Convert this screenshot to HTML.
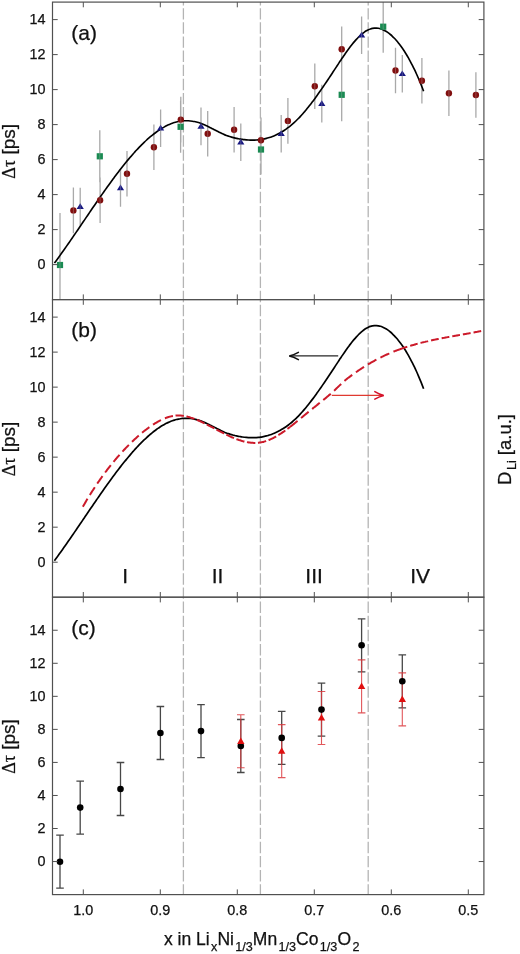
<!DOCTYPE html>
<html><head><meta charset="utf-8"><title>Figure</title><style>
html,body{margin:0;padding:0;background:#fff;}
body{width:520px;height:954px;overflow:hidden;}
svg{display:block;position:absolute;left:0;top:0;}
text{font-family:"Liberation Sans",Arial,Helvetica,sans-serif;fill:#111;stroke:#111;stroke-width:0.25px;}
.tl{font-size:14.4px;text-anchor:end;}
.xl{font-size:14.4px;text-anchor:middle;}
.pl{font-size:21px;}
.rn{font-size:21px;text-anchor:middle;}
.al{font-size:19px;text-anchor:middle;}
.gk{font-family:"Liberation Serif",serif;font-size:18px;}
.al2{font-size:18.5px;text-anchor:middle;}
.sub{font-size:12.5px;}
.xt{font-size:17.5px;}
.sb{font-size:12.6px;}
</style></head>
<body><svg width="520" height="954" viewBox="0 0 520 954">
<rect width="520" height="954" fill="#fff"/>
<clipPath id="cp"><rect x="52.5" y="2.1" width="431.4" height="892.5"/></clipPath>
<line clip-path="url(#cp)" x1="183.4" y1="-6" x2="183.4" y2="894.6" stroke="#b4b4b4" stroke-width="1.3" stroke-dasharray="11.4 2.73"/>
<line clip-path="url(#cp)" x1="260.4" y1="-6" x2="260.4" y2="894.6" stroke="#b4b4b4" stroke-width="1.3" stroke-dasharray="11.4 2.73"/>
<line clip-path="url(#cp)" x1="368.2" y1="-6" x2="368.2" y2="894.6" stroke="#b4b4b4" stroke-width="1.3" stroke-dasharray="11.4 2.73"/>
<path d="M73.4,187.6V233.2M100.1,177.4V223M127,151V196.6M153.9,124.4V170M180.8,96.8V142.4M207.7,111V156.6M234.1,107V152.6M261,117.4V163M287.9,98.1V143.7M314.8,63.4V109M341.7,26.5V72.1M395.5,47.7V93.3M421.9,58V103.6M448.9,70.4V116M475.9,72.2V117.8M80.2,187.8V225.4M120.5,169.2V206.8M160.6,109.4V147M201,107.6V145.2M240.8,123.4V161M281.2,115V152.6M321.8,84.8V122.4M361.6,16.4V54M402.3,55V92.6M60,213V299.6M99.8,130.3V182.3M180.6,100.8V152.8M261,124.5V174.5M341.7,68.4V121.2M383.2,2.1V52.7" stroke="#a9a9a9" stroke-width="1.3" fill="none"/>
<path d="M54.4,263.11 C54.73,262.66 55.73,261.31 56.4,260.4 C57.07,259.49 57.73,258.57 58.4,257.65 C59.07,256.73 59.73,255.8 60.4,254.87 C61.07,253.94 61.73,253.01 62.4,252.07 C63.07,251.13 63.73,250.19 64.4,249.24 C65.07,248.3 65.73,247.35 66.4,246.39 C67.07,245.44 67.73,244.48 68.4,243.52 C69.07,242.56 69.73,241.6 70.4,240.63 C71.07,239.67 71.73,238.7 72.4,237.73 C73.07,236.76 73.73,235.79 74.4,234.81 C75.07,233.84 75.73,232.86 76.4,231.89 C77.07,230.91 77.73,229.93 78.4,228.95 C79.07,227.97 79.73,226.99 80.4,226.01 C81.07,225.02 81.73,224.04 82.4,223.06 C83.07,222.08 83.73,221.09 84.4,220.11 C85.07,219.13 85.73,218.14 86.4,217.16 C87.07,216.18 87.73,215.2 88.4,214.22 C89.07,213.23 89.73,212.25 90.4,211.27 C91.07,210.3 91.73,209.32 92.4,208.34 C93.07,207.36 93.73,206.39 94.4,205.42 C95.07,204.44 95.73,203.47 96.4,202.51 C97.07,201.54 97.73,200.57 98.4,199.61 C99.07,198.64 99.73,197.68 100.4,196.73 C101.07,195.77 101.73,194.81 102.4,193.86 C103.07,192.91 103.73,191.97 104.4,191.02 C105.07,190.08 105.73,189.14 106.4,188.2 C107.07,187.27 107.73,186.34 108.4,185.41 C109.07,184.48 109.73,183.56 110.4,182.65 C111.07,181.73 111.73,180.82 112.4,179.91 C113.07,179 113.73,178.1 114.4,177.21 C115.07,176.31 115.73,175.42 116.4,174.54 C117.07,173.66 117.73,172.78 118.4,171.91 C119.07,171.04 119.73,170.18 120.4,169.32 C121.07,168.46 121.73,167.61 122.4,166.77 C123.07,165.93 123.73,165.09 124.4,164.26 C125.07,163.44 125.73,162.62 126.4,161.8 C127.07,160.99 127.73,160.19 128.4,159.39 C129.07,158.6 129.73,157.81 130.4,157.03 C131.07,156.25 131.73,155.48 132.4,154.72 C133.07,153.96 133.73,153.21 134.4,152.47 C135.07,151.73 135.73,151 136.4,150.28 C137.07,149.56 137.73,148.84 138.4,148.14 C139.07,147.44 139.73,146.75 140.4,146.07 C141.07,145.39 141.73,144.72 142.4,144.06 C143.07,143.4 143.73,142.76 144.4,142.12 C145.07,141.48 145.73,140.86 146.4,140.25 C147.07,139.63 147.73,139.03 148.4,138.45 C149.07,137.86 149.73,137.28 150.4,136.72 C151.07,136.15 151.73,135.6 152.4,135.07 C153.07,134.53 153.73,134 154.4,133.49 C155.07,132.98 155.73,132.48 156.4,132 C157.07,131.52 157.73,131.04 158.4,130.59 C159.07,130.13 159.73,129.69 160.4,129.26 C161.07,128.84 161.73,128.42 162.4,128.02 C163.07,127.63 163.73,127.24 164.4,126.88 C165.07,126.51 165.73,126.16 166.4,125.82 C167.07,125.48 167.73,125.16 168.4,124.86 C169.07,124.55 169.73,124.26 170.4,123.99 C171.07,123.72 171.73,123.46 172.4,123.22 C173.07,122.98 173.73,122.76 174.4,122.56 C175.07,122.35 175.73,122.16 176.4,121.99 C177.07,121.82 177.73,121.67 178.4,121.53 C179.07,121.4 179.73,121.28 180.4,121.18 C181.07,121.08 181.73,120.99 182.4,120.93 C183.07,120.86 183.73,120.81 184.4,120.78 C185.07,120.75 185.73,120.73 186.4,120.74 C187.07,120.74 187.73,120.76 188.4,120.79 C189.07,120.83 189.73,120.88 190.4,120.95 C191.07,121.02 191.73,121.11 192.4,121.21 C193.07,121.31 193.73,121.43 194.4,121.56 C195.07,121.7 195.73,121.85 196.4,122.02 C197.07,122.19 197.73,122.37 198.4,122.57 C199.07,122.77 199.73,122.99 200.4,123.22 C201.07,123.46 201.73,123.71 202.4,123.97 C203.07,124.23 203.73,124.52 204.4,124.81 C205.07,125.1 205.73,125.4 206.4,125.71 C207.07,126.03 207.73,126.35 208.4,126.68 C209.07,127.01 209.73,127.35 210.4,127.69 C211.07,128.03 211.73,128.38 212.4,128.73 C213.07,129.07 213.73,129.42 214.4,129.77 C215.07,130.12 215.73,130.47 216.4,130.82 C217.07,131.16 217.73,131.5 218.4,131.84 C219.07,132.17 219.73,132.51 220.4,132.83 C221.07,133.15 221.73,133.46 222.4,133.76 C223.07,134.06 223.73,134.36 224.4,134.63 C225.07,134.91 225.73,135.17 226.4,135.42 C227.07,135.68 227.73,135.91 228.4,136.14 C229.07,136.36 229.73,136.58 230.4,136.78 C231.07,136.98 231.73,137.17 232.4,137.36 C233.07,137.54 233.73,137.71 234.4,137.87 C235.07,138.04 235.73,138.19 236.4,138.34 C237.07,138.48 237.73,138.62 238.4,138.75 C239.07,138.88 239.73,139.01 240.4,139.12 C241.07,139.23 241.73,139.34 242.4,139.43 C243.07,139.53 243.73,139.62 244.4,139.69 C245.07,139.77 245.73,139.84 246.4,139.9 C247.07,139.96 247.73,140.01 248.4,140.04 C249.07,140.08 249.73,140.11 250.4,140.13 C251.07,140.15 251.73,140.16 252.4,140.15 C253.07,140.15 253.73,140.14 254.4,140.11 C255.07,140.09 255.73,140.05 256.4,140 C257.07,139.96 257.73,139.9 258.4,139.83 C259.07,139.76 259.73,139.67 260.4,139.58 C261.07,139.48 261.73,139.38 262.4,139.26 C263.07,139.14 263.73,139 264.4,138.86 C265.07,138.71 265.73,138.56 266.4,138.38 C267.07,138.21 267.73,138.03 268.4,137.83 C269.07,137.63 269.73,137.42 270.4,137.19 C271.07,136.97 271.73,136.73 272.4,136.47 C273.07,136.22 273.73,135.95 274.4,135.67 C275.07,135.39 275.73,135.09 276.4,134.77 C277.07,134.46 277.73,134.13 278.4,133.79 C279.07,133.45 279.73,133.09 280.4,132.71 C281.07,132.34 281.73,131.95 282.4,131.54 C283.07,131.13 283.73,130.71 284.4,130.27 C285.07,129.83 285.73,129.38 286.4,128.9 C287.07,128.43 287.73,127.94 288.4,127.44 C289.07,126.93 289.73,126.4 290.4,125.86 C291.07,125.32 291.73,124.76 292.4,124.19 C293.07,123.61 293.73,123.01 294.4,122.4 C295.07,121.79 295.73,121.16 296.4,120.51 C297.07,119.86 297.73,119.19 298.4,118.5 C299.07,117.81 299.73,117.11 300.4,116.39 C301.07,115.67 301.73,114.93 302.4,114.18 C303.07,113.43 303.73,112.66 304.4,111.88 C305.07,111.09 305.73,110.29 306.4,109.48 C307.07,108.67 307.73,107.85 308.4,107.01 C309.07,106.17 309.73,105.32 310.4,104.46 C311.07,103.59 311.73,102.72 312.4,101.83 C313.07,100.95 313.73,100.05 314.4,99.14 C315.07,98.24 315.73,97.32 316.4,96.4 C317.07,95.47 317.73,94.53 318.4,93.59 C319.07,92.65 319.73,91.7 320.4,90.74 C321.07,89.78 321.73,88.82 322.4,87.85 C323.07,86.87 323.73,85.9 324.4,84.91 C325.07,83.93 325.73,82.94 326.4,81.95 C327.07,80.96 327.73,79.96 328.4,78.96 C329.07,77.96 329.73,76.96 330.4,75.95 C331.07,74.95 331.73,73.94 332.4,72.93 C333.07,71.92 333.73,70.91 334.4,69.89 C335.07,68.88 335.73,67.87 336.4,66.86 C337.07,65.85 337.73,64.83 338.4,63.83 C339.07,62.82 339.73,61.81 340.4,60.82 C341.07,59.82 341.73,58.82 342.4,57.84 C343.07,56.86 343.73,55.88 344.4,54.92 C345.07,53.95 345.73,53 346.4,52.06 C347.07,51.12 347.73,50.2 348.4,49.29 C349.07,48.38 349.73,47.49 350.4,46.62 C351.07,45.74 351.73,44.89 352.4,44.06 C353.07,43.23 353.73,42.42 354.4,41.64 C355.07,40.85 355.73,40.09 356.4,39.36 C357.07,38.63 357.73,37.92 358.4,37.25 C359.07,36.57 359.73,35.93 360.4,35.32 C361.07,34.71 361.73,34.12 362.4,33.58 C363.07,33.04 363.73,32.53 364.4,32.06 C365.07,31.59 365.73,31.16 366.4,30.77 C367.07,30.38 367.73,30.02 368.4,29.72 C369.07,29.41 369.73,29.15 370.4,28.93 C371.07,28.71 371.73,28.53 372.4,28.4 C373.07,28.26 373.73,28.17 374.4,28.12 C375.07,28.07 375.73,28.06 376.4,28.09 C377.07,28.13 377.73,28.2 378.4,28.31 C379.07,28.43 379.73,28.58 380.4,28.77 C381.07,28.97 381.73,29.2 382.4,29.47 C383.07,29.74 383.73,30.05 384.4,30.39 C385.07,30.74 385.73,31.12 386.4,31.54 C387.07,31.96 387.73,32.42 388.4,32.91 C389.07,33.41 389.73,33.94 390.4,34.5 C391.07,35.06 391.73,35.66 392.4,36.3 C393.07,36.93 393.73,37.6 394.4,38.3 C395.07,39 395.73,39.73 396.4,40.5 C397.07,41.27 397.73,42.07 398.4,42.9 C399.07,43.73 399.73,44.6 400.4,45.49 C401.07,46.39 401.73,47.32 402.4,48.28 C403.07,49.25 403.73,50.24 404.4,51.28 C405.07,52.31 405.73,53.38 406.4,54.48 C407.07,55.58 407.73,56.72 408.4,57.89 C409.07,59.06 409.73,60.27 410.4,61.52 C411.07,62.76 411.73,64.05 412.4,65.37 C413.07,66.69 413.73,68.04 414.4,69.44 C415.07,70.83 415.73,72.27 416.4,73.74 C417.07,75.21 417.73,76.72 418.4,78.28 C419.07,79.83 419.73,81.42 420.4,83.05 C421.07,84.68 421.87,86.71 422.4,88.06 C422.93,89.42 423.4,90.67 423.6,91.19" stroke="#000" stroke-width="1.65" fill="none" stroke-linejoin="round"/>
<rect x="56.9" y="261.9" width="6.2" height="6.2" fill="#1a8a52"/>
<rect x="96.7" y="153.2" width="6.2" height="6.2" fill="#1a8a52"/>
<rect x="177.5" y="123.7" width="6.2" height="6.2" fill="#1a8a52"/>
<rect x="257.9" y="146.4" width="6.2" height="6.2" fill="#1a8a52"/>
<rect x="338.6" y="91.7" width="6.2" height="6.2" fill="#1a8a52"/>
<rect x="380.1" y="23.6" width="6.2" height="6.2" fill="#1a8a52"/>
<path d="M80.2,203.2L83.8,208.9L76.6,208.9Z" fill="#15157f"/>
<path d="M120.5,184.6L124.1,190.3L116.9,190.3Z" fill="#15157f"/>
<path d="M160.6,124.8L164.2,130.5L157,130.5Z" fill="#15157f"/>
<path d="M201,123L204.6,128.7L197.4,128.7Z" fill="#15157f"/>
<path d="M240.8,138.8L244.4,144.5L237.2,144.5Z" fill="#15157f"/>
<path d="M281.2,130.4L284.8,136.1L277.6,136.1Z" fill="#15157f"/>
<path d="M321.8,100.2L325.4,105.9L318.2,105.9Z" fill="#15157f"/>
<path d="M361.6,31.8L365.2,37.5L358,37.5Z" fill="#15157f"/>
<path d="M402.3,70.4L405.9,76.1L398.7,76.1Z" fill="#15157f"/>
<circle cx="73.4" cy="210.4" r="3.2" fill="#800e0e"/>
<circle cx="100.1" cy="200.2" r="3.2" fill="#800e0e"/>
<circle cx="127" cy="173.8" r="3.2" fill="#800e0e"/>
<circle cx="153.9" cy="147.2" r="3.2" fill="#800e0e"/>
<circle cx="180.8" cy="119.6" r="3.2" fill="#800e0e"/>
<circle cx="207.7" cy="133.8" r="3.2" fill="#800e0e"/>
<circle cx="234.1" cy="129.8" r="3.2" fill="#800e0e"/>
<circle cx="261" cy="140.2" r="3.2" fill="#800e0e"/>
<circle cx="287.9" cy="120.9" r="3.2" fill="#800e0e"/>
<circle cx="314.8" cy="86.2" r="3.2" fill="#800e0e"/>
<circle cx="341.7" cy="49.3" r="3.2" fill="#800e0e"/>
<circle cx="395.5" cy="70.5" r="3.2" fill="#800e0e"/>
<circle cx="421.9" cy="80.8" r="3.2" fill="#800e0e"/>
<circle cx="448.9" cy="93.2" r="3.2" fill="#800e0e"/>
<circle cx="475.9" cy="95" r="3.2" fill="#800e0e"/>
<path d="M73.4,207.2V213.6M100.1,197V203.4M127,170.6V177M153.9,144V150.4M180.8,116.4V122.8M207.7,130.6V137M234.1,126.6V133M261,137V143.4M287.9,117.7V124.1M314.8,83V89.4M341.7,46.1V52.5M395.5,67.3V73.7M421.9,77.6V84M448.9,90V96.4M475.9,91.8V98.2M80.2,203.4V209.8M120.5,184.8V191.2M160.6,125V131.4M201,123.2V129.6M240.8,139V145.4M281.2,130.6V137M321.8,100.4V106.8M361.6,32V38.4M402.3,70.6V77M60,261.8V268.2M99.8,153.1V159.5M180.6,123.6V130M261,146.3V152.7M341.7,91.6V98M383.2,23.5V29.9" stroke="#c8c8c8" stroke-width="0.9" fill="none" opacity="0.35"/>
<path d="M54.4,560.7 C54.73,560.25 55.73,558.89 56.4,557.98 C57.07,557.07 57.73,556.16 58.4,555.24 C59.07,554.31 59.73,553.39 60.4,552.46 C61.07,551.53 61.73,550.59 62.4,549.65 C63.07,548.72 63.73,547.77 64.4,546.83 C65.07,545.88 65.73,544.93 66.4,543.97 C67.07,543.02 67.73,542.06 68.4,541.1 C69.07,540.14 69.73,539.18 70.4,538.21 C71.07,537.25 71.73,536.28 72.4,535.31 C73.07,534.34 73.73,533.37 74.4,532.39 C75.07,531.42 75.73,530.44 76.4,529.46 C77.07,528.48 77.73,527.51 78.4,526.52 C79.07,525.54 79.73,524.56 80.4,523.58 C81.07,522.6 81.73,521.62 82.4,520.63 C83.07,519.65 83.73,518.67 84.4,517.68 C85.07,516.7 85.73,515.72 86.4,514.73 C87.07,513.75 87.73,512.77 88.4,511.79 C89.07,510.81 89.73,509.82 90.4,508.84 C91.07,507.87 91.73,506.89 92.4,505.91 C93.07,504.93 93.73,503.96 94.4,502.99 C95.07,502.01 95.73,501.04 96.4,500.07 C97.07,499.1 97.73,498.14 98.4,497.17 C99.07,496.21 99.73,495.25 100.4,494.29 C101.07,493.33 101.73,492.38 102.4,491.43 C103.07,490.48 103.73,489.53 104.4,488.59 C105.07,487.64 105.73,486.7 106.4,485.77 C107.07,484.83 107.73,483.9 108.4,482.97 C109.07,482.05 109.73,481.12 110.4,480.21 C111.07,479.29 111.73,478.38 112.4,477.47 C113.07,476.56 113.73,475.66 114.4,474.77 C115.07,473.87 115.73,472.98 116.4,472.1 C117.07,471.22 117.73,470.34 118.4,469.47 C119.07,468.6 119.73,467.73 120.4,466.88 C121.07,466.02 121.73,465.17 122.4,464.32 C123.07,463.48 123.73,462.65 124.4,461.82 C125.07,460.99 125.73,460.17 126.4,459.36 C127.07,458.55 127.73,457.74 128.4,456.95 C129.07,456.15 129.73,455.36 130.4,454.58 C131.07,453.81 131.73,453.04 132.4,452.28 C133.07,451.52 133.73,450.76 134.4,450.02 C135.07,449.28 135.73,448.55 136.4,447.83 C137.07,447.11 137.73,446.39 138.4,445.69 C139.07,444.99 139.73,444.3 140.4,443.62 C141.07,442.94 141.73,442.27 142.4,441.61 C143.07,440.95 143.73,440.3 144.4,439.67 C145.07,439.03 145.73,438.41 146.4,437.79 C147.07,437.18 147.73,436.58 148.4,435.99 C149.07,435.4 149.73,434.83 150.4,434.26 C151.07,433.7 151.73,433.15 152.4,432.61 C153.07,432.07 153.73,431.55 154.4,431.04 C155.07,430.53 155.73,430.03 156.4,429.54 C157.07,429.06 157.73,428.59 158.4,428.13 C159.07,427.68 159.73,427.23 160.4,426.81 C161.07,426.38 161.73,425.97 162.4,425.57 C163.07,425.17 163.73,424.79 164.4,424.42 C165.07,424.05 165.73,423.7 166.4,423.36 C167.07,423.02 167.73,422.7 168.4,422.4 C169.07,422.09 169.73,421.8 170.4,421.53 C171.07,421.26 171.73,421 172.4,420.76 C173.07,420.52 173.73,420.3 174.4,420.1 C175.07,419.89 175.73,419.7 176.4,419.53 C177.07,419.36 177.73,419.21 178.4,419.07 C179.07,418.94 179.73,418.82 180.4,418.72 C181.07,418.62 181.73,418.53 182.4,418.47 C183.07,418.4 183.73,418.35 184.4,418.32 C185.07,418.29 185.73,418.27 186.4,418.28 C187.07,418.28 187.73,418.3 188.4,418.33 C189.07,418.37 189.73,418.42 190.4,418.49 C191.07,418.56 191.73,418.64 192.4,418.75 C193.07,418.85 193.73,418.97 194.4,419.1 C195.07,419.24 195.73,419.39 196.4,419.56 C197.07,419.73 197.73,419.91 198.4,420.11 C199.07,420.31 199.73,420.53 200.4,420.76 C201.07,421 201.73,421.25 202.4,421.51 C203.07,421.77 203.73,422.06 204.4,422.35 C205.07,422.64 205.73,422.94 206.4,423.26 C207.07,423.57 207.73,423.89 208.4,424.22 C209.07,424.55 209.73,424.89 210.4,425.23 C211.07,425.57 211.73,425.92 212.4,426.27 C213.07,426.62 213.73,426.97 214.4,427.32 C215.07,427.66 215.73,428.02 216.4,428.36 C217.07,428.7 217.73,429.05 218.4,429.38 C219.07,429.72 219.73,430.05 220.4,430.37 C221.07,430.69 221.73,431.01 222.4,431.31 C223.07,431.61 223.73,431.9 224.4,432.18 C225.07,432.46 225.73,432.72 226.4,432.97 C227.07,433.22 227.73,433.46 228.4,433.68 C229.07,433.91 229.73,434.12 230.4,434.33 C231.07,434.53 231.73,434.72 232.4,434.9 C233.07,435.08 233.73,435.26 234.4,435.42 C235.07,435.58 235.73,435.74 236.4,435.88 C237.07,436.03 237.73,436.17 238.4,436.3 C239.07,436.43 239.73,436.55 240.4,436.67 C241.07,436.78 241.73,436.88 242.4,436.98 C243.07,437.08 243.73,437.16 244.4,437.24 C245.07,437.32 245.73,437.39 246.4,437.44 C247.07,437.5 247.73,437.55 248.4,437.59 C249.07,437.63 249.73,437.66 250.4,437.68 C251.07,437.69 251.73,437.7 252.4,437.7 C253.07,437.7 253.73,437.68 254.4,437.66 C255.07,437.63 255.73,437.6 256.4,437.55 C257.07,437.5 257.73,437.44 258.4,437.37 C259.07,437.3 259.73,437.22 260.4,437.12 C261.07,437.03 261.73,436.92 262.4,436.8 C263.07,436.68 263.73,436.55 264.4,436.4 C265.07,436.26 265.73,436.1 266.4,435.93 C267.07,435.76 267.73,435.57 268.4,435.38 C269.07,435.18 269.73,434.97 270.4,434.74 C271.07,434.51 271.73,434.27 272.4,434.02 C273.07,433.76 273.73,433.5 274.4,433.21 C275.07,432.93 275.73,432.63 276.4,432.32 C277.07,432.01 277.73,431.68 278.4,431.33 C279.07,430.99 279.73,430.63 280.4,430.26 C281.07,429.88 281.73,429.49 282.4,429.08 C283.07,428.68 283.73,428.25 284.4,427.81 C285.07,427.38 285.73,426.92 286.4,426.45 C287.07,425.97 287.73,425.48 288.4,424.98 C289.07,424.47 289.73,423.95 290.4,423.4 C291.07,422.86 291.73,422.3 292.4,421.73 C293.07,421.15 293.73,420.55 294.4,419.94 C295.07,419.33 295.73,418.7 296.4,418.05 C297.07,417.4 297.73,416.73 298.4,416.04 C299.07,415.35 299.73,414.65 300.4,413.93 C301.07,413.21 301.73,412.47 302.4,411.72 C303.07,410.97 303.73,410.2 304.4,409.41 C305.07,408.63 305.73,407.83 306.4,407.02 C307.07,406.21 307.73,405.38 308.4,404.54 C309.07,403.71 309.73,402.85 310.4,401.99 C311.07,401.13 311.73,400.25 312.4,399.37 C313.07,398.48 313.73,397.58 314.4,396.68 C315.07,395.77 315.73,394.85 316.4,393.93 C317.07,393 317.73,392.07 318.4,391.12 C319.07,390.18 319.73,389.23 320.4,388.27 C321.07,387.31 321.73,386.35 322.4,385.37 C323.07,384.4 323.73,383.42 324.4,382.44 C325.07,381.46 325.73,380.47 326.4,379.48 C327.07,378.48 327.73,377.49 328.4,376.49 C329.07,375.49 329.73,374.48 330.4,373.48 C331.07,372.47 331.73,371.46 332.4,370.45 C333.07,369.44 333.73,368.43 334.4,367.42 C335.07,366.41 335.73,365.39 336.4,364.38 C337.07,363.37 337.73,362.36 338.4,361.35 C339.07,360.34 339.73,359.33 340.4,358.34 C341.07,357.34 341.73,356.34 342.4,355.36 C343.07,354.38 343.73,353.4 344.4,352.43 C345.07,351.47 345.73,350.52 346.4,349.58 C347.07,348.64 347.73,347.71 348.4,346.8 C349.07,345.9 349.73,345 350.4,344.13 C351.07,343.26 351.73,342.4 352.4,341.57 C353.07,340.74 353.73,339.93 354.4,339.15 C355.07,338.37 355.73,337.6 356.4,336.87 C357.07,336.14 357.73,335.43 358.4,334.76 C359.07,334.09 359.73,333.44 360.4,332.83 C361.07,332.22 361.73,331.64 362.4,331.09 C363.07,330.55 363.73,330.04 364.4,329.57 C365.07,329.1 365.73,328.67 366.4,328.28 C367.07,327.88 367.73,327.53 368.4,327.23 C369.07,326.92 369.73,326.65 370.4,326.43 C371.07,326.21 371.73,326.04 372.4,325.9 C373.07,325.77 373.73,325.68 374.4,325.63 C375.07,325.58 375.73,325.57 376.4,325.6 C377.07,325.64 377.73,325.71 378.4,325.82 C379.07,325.94 379.73,326.09 380.4,326.28 C381.07,326.47 381.73,326.71 382.4,326.98 C383.07,327.25 383.73,327.56 384.4,327.9 C385.07,328.25 385.73,328.63 386.4,329.05 C387.07,329.47 387.73,329.93 388.4,330.42 C389.07,330.92 389.73,331.45 390.4,332.01 C391.07,332.58 391.73,333.18 392.4,333.81 C393.07,334.44 393.73,335.11 394.4,335.81 C395.07,336.51 395.73,337.25 396.4,338.01 C397.07,338.78 397.73,339.58 398.4,340.41 C399.07,341.25 399.73,342.11 400.4,343.01 C401.07,343.9 401.73,344.83 402.4,345.8 C403.07,346.76 403.73,347.76 404.4,348.79 C405.07,349.83 405.73,350.89 406.4,352 C407.07,353.1 407.73,354.23 408.4,355.41 C409.07,356.58 409.73,357.79 410.4,359.04 C411.07,360.28 411.73,361.57 412.4,362.89 C413.07,364.21 413.73,365.56 414.4,366.96 C415.07,368.36 415.73,369.79 416.4,371.26 C417.07,372.74 417.73,374.25 418.4,375.8 C419.07,377.35 419.73,378.94 420.4,380.57 C421.07,382.21 421.87,384.23 422.4,385.59 C422.93,386.95 423.4,388.2 423.6,388.72" stroke="#000" stroke-width="1.7" fill="none" stroke-linejoin="round"/>
<path d="M82.9,506.69 C83.07,506.4 83.57,505.53 83.9,504.95 C84.23,504.37 84.57,503.8 84.9,503.23 C85.23,502.66 85.57,502.1 85.9,501.53 C86.23,500.97 86.57,500.41 86.9,499.86 C87.23,499.3 87.57,498.75 87.9,498.2 C88.23,497.65 88.57,497.1 88.9,496.56 C89.23,496.02 89.57,495.48 89.9,494.94 C90.23,494.4 90.57,493.87 90.9,493.34 C91.23,492.81 91.57,492.28 91.9,491.76 C92.23,491.23 92.57,490.71 92.9,490.19 C93.23,489.68 93.57,489.16 93.9,488.65 C94.23,488.14 94.57,487.63 94.9,487.13 C95.23,486.62 95.57,486.12 95.9,485.62 C96.23,485.12 96.57,484.62 96.9,484.13 C97.23,483.64 97.57,483.14 97.9,482.66 C98.23,482.17 98.57,481.69 98.9,481.2 C99.23,480.72 99.57,480.24 99.9,479.77 C100.23,479.29 100.57,478.82 100.9,478.35 C101.23,477.88 101.57,477.41 101.9,476.95 C102.23,476.48 102.57,476.02 102.9,475.56 C103.23,475.1 103.57,474.65 103.9,474.19 C104.23,473.74 104.57,473.29 104.9,472.84 C105.23,472.39 105.57,471.95 105.9,471.51 C106.23,471.06 106.57,470.62 106.9,470.19 C107.23,469.75 107.57,469.31 107.9,468.88 C108.23,468.45 108.57,468.02 108.9,467.6 C109.23,467.17 109.57,466.74 109.9,466.32 C110.23,465.9 110.57,465.48 110.9,465.07 C111.23,464.65 111.57,464.24 111.9,463.83 C112.23,463.41 112.57,463.01 112.9,462.6 C113.23,462.19 113.57,461.79 113.9,461.39 C114.23,460.99 114.57,460.59 114.9,460.19 C115.23,459.79 115.57,459.4 115.9,459.01 C116.23,458.62 116.57,458.23 116.9,457.84 C117.23,457.45 117.57,457.07 117.9,456.68 C118.23,456.3 118.57,455.92 118.9,455.54 C119.23,455.17 119.57,454.79 119.9,454.42 C120.23,454.04 120.57,453.67 120.9,453.3 C121.23,452.94 121.57,452.57 121.9,452.2 C122.23,451.84 122.57,451.48 122.9,451.12 C123.23,450.76 123.57,450.4 123.9,450.04 C124.23,449.69 124.57,449.33 124.9,448.98 C125.23,448.63 125.57,448.28 125.9,447.93 C126.23,447.59 126.57,447.24 126.9,446.9 C127.23,446.55 127.57,446.21 127.9,445.87 C128.23,445.53 128.57,445.2 128.9,444.86 C129.23,444.53 129.57,444.19 129.9,443.86 C130.23,443.53 130.57,443.2 130.9,442.88 C131.23,442.55 131.57,442.23 131.9,441.9 C132.23,441.58 132.57,441.26 132.9,440.94 C133.23,440.62 133.57,440.31 133.9,439.99 C134.23,439.68 134.57,439.37 134.9,439.06 C135.23,438.75 135.57,438.44 135.9,438.14 C136.23,437.84 136.57,437.53 136.9,437.23 C137.23,436.93 137.57,436.64 137.9,436.34 C138.23,436.05 138.57,435.75 138.9,435.46 C139.23,435.17 139.57,434.88 139.9,434.6 C140.23,434.31 140.57,434.03 140.9,433.75 C141.23,433.47 141.57,433.19 141.9,432.91 C142.23,432.64 142.57,432.36 142.9,432.09 C143.23,431.82 143.57,431.55 143.9,431.29 C144.23,431.02 144.57,430.76 144.9,430.5 C145.23,430.24 145.57,429.98 145.9,429.72 C146.23,429.47 146.57,429.22 146.9,428.96 C147.23,428.71 147.57,428.47 147.9,428.22 C148.23,427.98 148.57,427.73 148.9,427.49 C149.23,427.25 149.57,427.02 149.9,426.78 C150.23,426.55 150.57,426.32 150.9,426.09 C151.23,425.86 151.57,425.63 151.9,425.41 C152.23,425.19 152.57,424.96 152.9,424.75 C153.23,424.53 153.57,424.31 153.9,424.1 C154.23,423.89 154.57,423.68 154.9,423.47 C155.23,423.27 155.57,423.06 155.9,422.86 C156.23,422.66 156.57,422.47 156.9,422.27 C157.23,422.08 157.57,421.89 157.9,421.7 C158.23,421.51 158.57,421.33 158.9,421.15 C159.23,420.97 159.57,420.79 159.9,420.62 C160.23,420.45 160.57,420.28 160.9,420.11 C161.23,419.95 161.57,419.78 161.9,419.63 C162.23,419.47 162.57,419.31 162.9,419.16 C163.23,419.01 163.57,418.87 163.9,418.72 C164.23,418.58 164.73,418.38 164.9,418.31" stroke="#cc1a2a" stroke-width="2.0" fill="none" stroke-dasharray="9.2 4.4"/>
<path d="M164.9,418.31 C165.07,418.25 165.57,418.05 165.9,417.92 C166.23,417.8 166.57,417.68 166.9,417.56 C167.23,417.44 167.57,417.33 167.9,417.22 C168.23,417.12 168.57,417.01 168.9,416.91 C169.23,416.82 169.57,416.72 169.9,416.63 C170.23,416.54 170.57,416.46 170.9,416.38 C171.23,416.3 171.57,416.23 171.9,416.16 C172.23,416.09 172.57,416.03 172.9,415.97 C173.23,415.91 173.57,415.86 173.9,415.81 C174.23,415.76 174.57,415.72 174.9,415.68 C175.23,415.64 175.57,415.61 175.9,415.58 C176.23,415.56 176.57,415.54 176.9,415.52 C177.23,415.5 177.57,415.49 177.9,415.49 C178.23,415.48 178.57,415.48 178.9,415.49 C179.23,415.5 179.57,415.51 179.9,415.52 C180.23,415.54 180.57,415.56 180.9,415.58 C181.23,415.61 181.57,415.64 181.9,415.68 C182.23,415.71 182.57,415.75 182.9,415.8 C183.23,415.84 183.57,415.89 183.9,415.94 C184.23,415.99 184.57,416.05 184.9,416.11 C185.23,416.17 185.57,416.24 185.9,416.31 C186.23,416.38 186.57,416.45 186.9,416.53 C187.23,416.61 187.57,416.69 187.9,416.78 C188.23,416.86 188.57,416.95 188.9,417.04 C189.23,417.14 189.57,417.23 189.9,417.33 C190.23,417.43 190.57,417.53 190.9,417.64 C191.23,417.74 191.57,417.85 191.9,417.97 C192.23,418.08 192.57,418.19 192.9,418.31 C193.23,418.43 193.57,418.55 193.9,418.68 C194.23,418.8 194.57,418.93 194.9,419.06 C195.23,419.18 195.57,419.32 195.9,419.45 C196.23,419.59 196.57,419.72 196.9,419.86 C197.23,420 197.57,420.14 197.9,420.28 C198.23,420.43 198.57,420.57 198.9,420.72 C199.23,420.87 199.57,421.02 199.9,421.17 C200.23,421.32 200.57,421.47 200.9,421.63 C201.23,421.78 201.57,421.94 201.9,422.09 C202.23,422.25 202.57,422.41 202.9,422.57 C203.23,422.73 203.57,422.89 203.9,423.06 C204.23,423.22 204.57,423.38 204.9,423.55 C205.23,423.72 205.57,423.88 205.9,424.05 C206.23,424.22 206.57,424.39 206.9,424.56 C207.23,424.73 207.57,424.9 207.9,425.07 C208.23,425.24 208.57,425.41 208.9,425.58 C209.23,425.76 209.57,425.93 209.9,426.1 C210.23,426.28 210.57,426.45 210.9,426.63 C211.23,426.8 211.57,426.98 211.9,427.15 C212.23,427.33 212.57,427.51 212.9,427.68 C213.23,427.86 213.57,428.04 213.9,428.21 C214.23,428.39 214.57,428.57 214.9,428.74 C215.23,428.92 215.57,429.1 215.9,429.28 C216.23,429.45 216.57,429.63 216.9,429.81 C217.23,429.98 217.57,430.16 217.9,430.34 C218.23,430.51 218.57,430.69 218.9,430.86 C219.23,431.04 219.57,431.21 219.9,431.39 C220.23,431.56 220.57,431.74 220.9,431.91 C221.23,432.08 221.57,432.26 221.9,432.43 C222.23,432.6 222.57,432.77 222.9,432.94 C223.23,433.11 223.57,433.28 223.9,433.45 C224.23,433.62 224.57,433.79 224.9,433.95 C225.23,434.12 225.57,434.28 225.9,434.45 C226.23,434.61 226.57,434.77 226.9,434.94 C227.23,435.1 227.57,435.26 227.9,435.42 C228.23,435.57 228.57,435.73 228.9,435.89 C229.23,436.04 229.57,436.2 229.9,436.35 C230.23,436.5 230.57,436.65 230.9,436.8 C231.23,436.95 231.57,437.1 231.9,437.24 C232.23,437.39 232.57,437.53 232.9,437.67 C233.23,437.81 233.57,437.95 233.9,438.09 C234.23,438.23 234.57,438.36 234.9,438.5 C235.23,438.63 235.57,438.76 235.9,438.89 C236.23,439.02 236.57,439.14 236.9,439.27 C237.23,439.39 237.57,439.51 237.9,439.63 C238.23,439.75 238.57,439.86 238.9,439.98 C239.23,440.09 239.57,440.2 239.9,440.31 C240.23,440.42 240.57,440.52 240.9,440.62 C241.23,440.73 241.57,440.82 241.9,440.92 C242.23,441.02 242.57,441.11 242.9,441.2 C243.23,441.29 243.57,441.38 243.9,441.46 C244.23,441.54 244.57,441.63 244.9,441.7 C245.23,441.78 245.57,441.85 245.9,441.92 C246.23,441.99 246.57,442.06 246.9,442.12 C247.23,442.19 247.57,442.25 247.9,442.3 C248.23,442.36 248.57,442.41 248.9,442.46 C249.23,442.51 249.57,442.55 249.9,442.59 C250.23,442.63 250.57,442.67 250.9,442.7 C251.23,442.74 251.57,442.76 251.9,442.79 C252.23,442.81 252.57,442.83 252.9,442.85 C253.23,442.87 253.57,442.88 253.9,442.89 C254.23,442.89 254.57,442.9 254.9,442.9 C255.23,442.89 255.57,442.89 255.9,442.88 C256.23,442.87 256.57,442.85 256.9,442.83 C257.23,442.81 257.57,442.79 257.9,442.76 C258.23,442.73 258.57,442.7 258.9,442.66 C259.23,442.62 259.57,442.57 259.9,442.53 C260.23,442.48 260.57,442.42 260.9,442.36 C261.23,442.3 261.57,442.24 261.9,442.17 C262.23,442.1 262.57,442.03 262.9,441.95 C263.23,441.87 263.57,441.78 263.9,441.69 C264.23,441.6 264.57,441.51 264.9,441.41 C265.23,441.31 265.57,441.21 265.9,441.1 C266.23,440.99 266.57,440.87 266.9,440.76 C267.23,440.64 267.57,440.52 267.9,440.39 C268.23,440.26 268.57,440.13 268.9,440 C269.23,439.86 269.57,439.72 269.9,439.58 C270.23,439.43 270.57,439.28 270.9,439.13 C271.23,438.98 271.57,438.82 271.9,438.66 C272.23,438.5 272.57,438.34 272.9,438.17 C273.23,438.01 273.57,437.83 273.9,437.66 C274.23,437.48 274.57,437.31 274.9,437.12 C275.23,436.94 275.57,436.76 275.9,436.57 C276.23,436.38 276.57,436.19 276.9,435.99 C277.23,435.8 277.57,435.6 277.9,435.4 C278.23,435.19 278.57,434.99 278.9,434.78 C279.23,434.57 279.57,434.36 279.9,434.15 C280.23,433.94 280.57,433.72 280.9,433.5 C281.23,433.28 281.57,433.06 281.9,432.83 C282.23,432.61 282.57,432.38 282.9,432.15 C283.23,431.92 283.57,431.69 283.9,431.46 C284.23,431.22 284.57,430.99 284.9,430.75 C285.23,430.51 285.57,430.27 285.9,430.03 C286.23,429.78 286.57,429.54 286.9,429.29 C287.23,429.04 287.57,428.8 287.9,428.55 C288.23,428.29 288.57,428.04 288.9,427.79 C289.23,427.53 289.73,427.15 289.9,427.02" stroke="#cc1a2a" stroke-width="2.0" fill="none" stroke-dasharray="8.4 2.6"/>
<path d="M289.9,427.02 C290.07,426.89 290.57,426.5 290.9,426.24 C291.23,425.98 291.57,425.72 291.9,425.46 C292.23,425.2 292.57,424.93 292.9,424.67 C293.23,424.4 293.57,424.13 293.9,423.87 C294.23,423.6 294.57,423.33 294.9,423.06 C295.23,422.79 295.57,422.52 295.9,422.25 C296.23,421.98 296.57,421.71 296.9,421.44 C297.23,421.16 297.57,420.89 297.9,420.62 C298.23,420.34 298.57,420.07 298.9,419.79 C299.23,419.52 299.57,419.24 299.9,418.97 C300.23,418.69 300.57,418.42 300.9,418.14 C301.23,417.87 301.57,417.59 301.9,417.32 C302.23,417.04 302.57,416.77 302.9,416.49 C303.23,416.22 303.57,415.94 303.9,415.67 C304.23,415.39 304.57,415.12 304.9,414.84 C305.23,414.57 305.57,414.29 305.9,414.02 C306.23,413.75 306.57,413.47 306.9,413.2 C307.23,412.93 307.57,412.66 307.9,412.39 C308.23,412.12 308.57,411.85 308.9,411.58 C309.23,411.31 309.57,411.04 309.9,410.77 C310.23,410.5 310.57,410.24 310.9,409.97 C311.23,409.7 311.57,409.44 311.9,409.17 C312.23,408.9 312.57,408.64 312.9,408.37 C313.23,408.11 313.57,407.84 313.9,407.57 C314.23,407.31 314.57,407.04 314.9,406.78 C315.23,406.51 315.57,406.25 315.9,405.98 C316.23,405.72 316.57,405.45 316.9,405.18 C317.23,404.92 317.57,404.65 317.9,404.38 C318.23,404.12 318.57,403.85 318.9,403.58 C319.23,403.32 319.57,403.05 319.9,402.78 C320.23,402.51 320.57,402.24 320.9,401.97 C321.23,401.7 321.57,401.43 321.9,401.16 C322.23,400.89 322.57,400.62 322.9,400.34 C323.23,400.07 323.57,399.8 323.9,399.52 C324.23,399.25 324.57,398.97 324.9,398.7 C325.23,398.42 325.57,398.14 325.9,397.86 C326.23,397.58 326.57,397.3 326.9,397.02 C327.23,396.74 327.57,396.45 327.9,396.17 C328.23,395.88 328.57,395.6 328.9,395.31 C329.23,395.02 329.57,394.73 329.9,394.44 C330.23,394.15 330.57,393.86 330.9,393.56 C331.23,393.27 331.57,392.97 331.9,392.67 C332.23,392.38 332.57,392.08 332.9,391.77 C333.23,391.47 333.57,391.17 333.9,390.86 C334.23,390.55 334.57,390.25 334.9,389.94 C335.23,389.63 335.57,389.31 335.9,389 C336.23,388.68 336.57,388.36 336.9,388.04 C337.23,387.73 337.57,387.4 337.9,387.08 C338.23,386.76 338.57,386.44 338.9,386.11 C339.23,385.79 339.57,385.47 339.9,385.15 C340.23,384.83 340.57,384.51 340.9,384.19 C341.23,383.87 341.57,383.55 341.9,383.24 C342.23,382.92 342.57,382.61 342.9,382.31 C343.23,382 343.57,381.7 343.9,381.4 C344.23,381.1 344.57,380.81 344.9,380.52 C345.23,380.23 345.57,379.95 345.9,379.67 C346.23,379.4 346.57,379.13 346.9,378.86 C347.23,378.6 347.57,378.34 347.9,378.08 C348.23,377.83 348.57,377.58 348.9,377.33 C349.23,377.08 349.57,376.83 349.9,376.59 C350.23,376.34 350.57,376.1 350.9,375.86 C351.23,375.61 351.57,375.37 351.9,375.13 C352.23,374.89 352.57,374.65 352.9,374.41 C353.23,374.18 353.57,373.94 353.9,373.7 C354.23,373.47 354.57,373.23 354.9,373 C355.23,372.77 355.57,372.53 355.9,372.3 C356.23,372.07 356.57,371.84 356.9,371.61 C357.23,371.38 357.57,371.16 357.9,370.93 C358.23,370.7 358.57,370.48 358.9,370.26 C359.23,370.03 359.57,369.81 359.9,369.59 C360.23,369.37 360.57,369.15 360.9,368.93 C361.23,368.71 361.57,368.49 361.9,368.27 C362.23,368.06 362.57,367.84 362.9,367.63 C363.23,367.41 363.57,367.2 363.9,366.99 C364.23,366.78 364.57,366.57 364.9,366.36 C365.23,366.15 365.57,365.94 365.9,365.74 C366.23,365.53 366.57,365.33 366.9,365.12 C367.23,364.92 367.57,364.72 367.9,364.51 C368.23,364.31 368.57,364.11 368.9,363.91 C369.23,363.72 369.57,363.52 369.9,363.32 C370.23,363.13 370.57,362.93 370.9,362.74 C371.23,362.55 371.57,362.35 371.9,362.16 C372.23,361.97 372.57,361.78 372.9,361.59 C373.23,361.41 373.57,361.22 373.9,361.03 C374.23,360.85 374.57,360.66 374.9,360.48 C375.23,360.3 375.57,360.12 375.9,359.94 C376.23,359.76 376.57,359.58 376.9,359.4 C377.23,359.22 377.57,359.05 377.9,358.87 C378.23,358.7 378.57,358.52 378.9,358.35 C379.23,358.18 379.57,358.01 379.9,357.84 C380.23,357.67 380.57,357.5 380.9,357.34 C381.23,357.17 381.57,357.01 381.9,356.84 C382.23,356.68 382.57,356.52 382.9,356.35 C383.23,356.19 383.57,356.03 383.9,355.88 C384.23,355.72 384.57,355.56 384.9,355.4 C385.23,355.25 385.57,355.09 385.9,354.94 C386.23,354.79 386.57,354.64 386.9,354.49 C387.23,354.34 387.57,354.19 387.9,354.04 C388.23,353.89 388.57,353.74 388.9,353.6 C389.23,353.45 389.57,353.31 389.9,353.16 C390.23,353.02 390.57,352.88 390.9,352.74 C391.23,352.6 391.57,352.46 391.9,352.32 C392.23,352.18 392.57,352.04 392.9,351.91 C393.23,351.77 393.57,351.64 393.9,351.5 C394.23,351.37 394.57,351.24 394.9,351.11 C395.23,350.98 395.57,350.85 395.9,350.72 C396.23,350.59 396.57,350.46 396.9,350.33 C397.23,350.2 397.57,350.08 397.9,349.95 C398.23,349.83 398.57,349.71 398.9,349.58 C399.23,349.46 399.73,349.28 399.9,349.22" stroke="#cc1a2a" stroke-width="2.0" fill="none" stroke-dasharray="9.8 4.5"/>
<path d="M399.9,349.22 C400.07,349.16 400.57,348.98 400.9,348.86 C401.23,348.74 401.57,348.62 401.9,348.51 C402.23,348.39 402.57,348.28 402.9,348.16 C403.23,348.05 403.57,347.93 403.9,347.82 C404.23,347.71 404.57,347.6 404.9,347.49 C405.23,347.38 405.57,347.27 405.9,347.16 C406.23,347.05 406.57,346.94 406.9,346.83 C407.23,346.73 407.57,346.62 407.9,346.52 C408.23,346.41 408.57,346.31 408.9,346.2 C409.23,346.1 409.57,346 409.9,345.9 C410.23,345.8 410.57,345.69 410.9,345.6 C411.23,345.5 411.57,345.4 411.9,345.3 C412.23,345.2 412.57,345.1 412.9,345.01 C413.23,344.91 413.57,344.81 413.9,344.72 C414.23,344.62 414.57,344.53 414.9,344.44 C415.23,344.34 415.57,344.25 415.9,344.16 C416.23,344.07 416.57,343.98 416.9,343.89 C417.23,343.8 417.57,343.71 417.9,343.62 C418.23,343.53 418.57,343.44 418.9,343.35 C419.23,343.27 419.57,343.18 419.9,343.09 C420.23,343.01 420.57,342.92 420.9,342.84 C421.23,342.75 421.57,342.67 421.9,342.59 C422.23,342.5 422.57,342.42 422.9,342.34 C423.23,342.26 423.57,342.18 423.9,342.1 C424.23,342.01 424.57,341.93 424.9,341.86 C425.23,341.78 425.57,341.7 425.9,341.62 C426.23,341.54 426.57,341.46 426.9,341.39 C427.23,341.31 427.57,341.23 427.9,341.16 C428.23,341.08 428.57,341 428.9,340.93 C429.23,340.85 429.57,340.78 429.9,340.71 C430.23,340.63 430.57,340.56 430.9,340.49 C431.23,340.41 431.57,340.34 431.9,340.27 C432.23,340.2 432.57,340.13 432.9,340.05 C433.23,339.98 433.57,339.91 433.9,339.84 C434.23,339.77 434.57,339.7 434.9,339.63 C435.23,339.56 435.57,339.5 435.9,339.43 C436.23,339.36 436.57,339.29 436.9,339.22 C437.23,339.16 437.57,339.09 437.9,339.02 C438.23,338.95 438.57,338.89 438.9,338.82 C439.23,338.76 439.57,338.69 439.9,338.63 C440.23,338.56 440.57,338.49 440.9,338.43 C441.23,338.37 441.57,338.3 441.9,338.24 C442.23,338.17 442.57,338.11 442.9,338.05 C443.23,337.98 443.57,337.92 443.9,337.86 C444.23,337.79 444.57,337.73 444.9,337.67 C445.23,337.61 445.57,337.54 445.9,337.48 C446.23,337.42 446.57,337.36 446.9,337.3 C447.23,337.23 447.57,337.17 447.9,337.11 C448.23,337.05 448.57,336.99 448.9,336.93 C449.23,336.87 449.57,336.81 449.9,336.75 C450.23,336.69 450.57,336.63 450.9,336.57 C451.23,336.51 451.57,336.45 451.9,336.39 C452.23,336.33 452.57,336.27 452.9,336.21 C453.23,336.15 453.57,336.09 453.9,336.03 C454.23,335.97 454.57,335.91 454.9,335.85 C455.23,335.79 455.57,335.73 455.9,335.67 C456.23,335.61 456.57,335.56 456.9,335.5 C457.23,335.44 457.57,335.38 457.9,335.32 C458.23,335.26 458.57,335.2 458.9,335.14 C459.23,335.08 459.57,335.03 459.9,334.97 C460.23,334.91 460.57,334.85 460.9,334.79 C461.23,334.73 461.57,334.67 461.9,334.61 C462.23,334.55 462.57,334.49 462.9,334.44 C463.23,334.38 463.57,334.32 463.9,334.26 C464.23,334.2 464.57,334.14 464.9,334.08 C465.23,334.02 465.57,333.96 465.9,333.9 C466.23,333.84 466.57,333.78 466.9,333.72 C467.23,333.66 467.57,333.6 467.9,333.54 C468.23,333.48 468.57,333.42 468.9,333.36 C469.23,333.3 469.57,333.24 469.9,333.18 C470.23,333.12 470.57,333.06 470.9,332.99 C471.23,332.93 471.57,332.87 471.9,332.81 C472.23,332.75 472.57,332.69 472.9,332.62 C473.23,332.56 473.57,332.5 473.9,332.44 C474.23,332.37 474.57,332.31 474.9,332.25 C475.23,332.18 475.57,332.12 475.9,332.06 C476.23,331.99 476.57,331.93 476.9,331.86 C477.23,331.8 477.57,331.73 477.9,331.67 C478.23,331.6 478.57,331.54 478.9,331.47 C479.23,331.41 479.57,331.34 479.9,331.28 C480.23,331.21 480.57,331.14 480.9,331.07 C481.23,331.01 481.57,330.94 481.9,330.87 C482.23,330.8 482.6,330.73 482.9,330.67 C483.2,330.6 483.57,330.53 483.7,330.5" stroke="#cc1a2a" stroke-width="2.0" fill="none" stroke-dasharray="7.8 3"/>
<path d="M338.2,355.9H290.5" stroke="#262626" stroke-width="1.4" fill="none"/>
<path d="M298.4,352.4Q293.5,355.2 289.2,356Q293.5,356.8 298.4,359.6" stroke="#111" stroke-width="1.5" fill="none" stroke-linecap="round"/>
<path d="M331.8,395.4H382.8" stroke="#e03a30" stroke-width="1.4" fill="none"/>
<path d="M374.8,391.6Q379.7,394.6 383.8,395.4Q379.7,396.2 374.8,399.2" stroke="#d4102a" stroke-width="1.5" fill="none" stroke-linecap="round"/>
<text class="rn" x="125.2" y="582.6">I</text>
<text class="rn" x="217.6" y="582.6">II</text>
<text class="rn" x="314.1" y="582.6">III</text>
<text class="rn" x="420.2" y="582.6">IV</text>
<path d="M60,835.2V888.2M56.2,835.2H63.8M56.2,888.2H63.8M80.2,781.1V834.1M76.4,781.1H84M76.4,834.1H84M120.5,762.5V815.5M116.7,762.5H124.3M116.7,815.5H124.3M160.4,706.5V759.5M156.6,706.5H164.2M156.6,759.5H164.2M201,704.6V757.6M197.2,704.6H204.8M197.2,757.6H204.8M240.8,719.5V772.5M237,719.5H244.6M237,772.5H244.6M281.7,711.4V764.4M277.9,711.4H285.5M277.9,764.4H285.5M321.5,683.1V736.1M317.7,683.1H325.3M317.7,736.1H325.3M361.6,618.8V671.8M357.8,618.8H365.4M357.8,671.8H365.4M402.3,654.8V707.8M398.5,654.8H406.1M398.5,707.8H406.1" stroke="#474747" stroke-width="1.3" fill="none"/>
<g opacity="0.85">
<path d="M240.8,714.8V767.8M237,714.8H244.6M237,767.8H244.6M281.7,724.6V777.6M277.9,724.6H285.5M277.9,777.6H285.5M321.5,691.5V744.5M317.7,691.5H325.3M317.7,744.5H325.3M361.6,659.9V712.9M357.8,659.9H365.4M357.8,712.9H365.4M402.3,672.9V725.9M398.5,672.9H406.1M398.5,725.9H406.1" stroke="#dc3a3e" stroke-width="1.1" fill="none"/>
</g>
<circle cx="60" cy="861.7" r="3.3" fill="#000"/>
<circle cx="80.2" cy="807.6" r="3.3" fill="#000"/>
<circle cx="120.5" cy="789" r="3.3" fill="#000"/>
<circle cx="160.4" cy="733" r="3.3" fill="#000"/>
<circle cx="201" cy="731.1" r="3.3" fill="#000"/>
<circle cx="240.8" cy="746" r="3.3" fill="#000"/>
<circle cx="281.7" cy="737.9" r="3.3" fill="#000"/>
<circle cx="321.5" cy="709.6" r="3.3" fill="#000"/>
<circle cx="361.6" cy="645.3" r="3.3" fill="#000"/>
<circle cx="402.3" cy="681.3" r="3.3" fill="#000"/>
<path d="M240.8,737.4L244.5,743.9L237.1,743.9Z" fill="#e01010"/>
<path d="M281.7,747.2L285.4,753.7L278,753.7Z" fill="#e01010"/>
<path d="M321.5,714.1L325.2,720.6L317.8,720.6Z" fill="#e01010"/>
<path d="M361.6,682.5L365.3,689L357.9,689Z" fill="#e01010"/>
<path d="M402.3,695.5L406,702L398.6,702Z" fill="#e01010"/>
<rect x="52.5" y="2.1" width="431.4" height="297.5" fill="none" stroke="#505050" stroke-width="1.2"/>
<path d="M83.3,2.1V7.3M83.3,299.6V294.4M160.3,2.1V7.3M160.3,299.6V294.4M237.3,2.1V7.3M237.3,299.6V294.4M314.3,2.1V7.3M314.3,299.6V294.4M391.3,2.1V7.3M391.3,299.6V294.4M468.3,2.1V7.3M468.3,299.6V294.4M52.5,264.6H57.7M52.5,229.6H57.7M52.5,194.6H57.7M52.5,159.6H57.7M52.5,124.6H57.7M52.5,89.6H57.7M52.5,54.6H57.7M52.5,19.6H57.7M483.9,264.6H478.7M483.9,229.6H478.7M483.9,194.6H478.7M483.9,159.6H478.7M483.9,124.6H478.7M483.9,89.6H478.7M483.9,54.6H478.7M483.9,19.6H478.7" stroke="#505050" stroke-width="1" fill="none"/>
<rect x="52.5" y="299.6" width="431.4" height="297.6" fill="none" stroke="#505050" stroke-width="1.2"/>
<path d="M83.3,299.6V304.8M83.3,597.2V592M160.3,299.6V304.8M160.3,597.2V592M237.3,299.6V304.8M237.3,597.2V592M314.3,299.6V304.8M314.3,597.2V592M391.3,299.6V304.8M391.3,597.2V592M468.3,299.6V304.8M468.3,597.2V592M52.5,562.19H57.7M52.5,527.18H57.7M52.5,492.16H57.7M52.5,457.15H57.7M52.5,422.14H57.7M52.5,387.13H57.7M52.5,352.12H57.7M52.5,317.11H57.7" stroke="#505050" stroke-width="1" fill="none"/>
<rect x="52.5" y="597.2" width="431.4" height="297.4" fill="none" stroke="#505050" stroke-width="1.2"/>
<path d="M83.3,597.2V602.4M83.3,894.6V889.4M160.3,597.2V602.4M160.3,894.6V889.4M237.3,597.2V602.4M237.3,894.6V889.4M314.3,597.2V602.4M314.3,894.6V889.4M391.3,597.2V602.4M391.3,894.6V889.4M468.3,597.2V602.4M468.3,894.6V889.4M52.5,861.56H57.7M52.5,828.51H57.7M52.5,795.47H57.7M52.5,762.42H57.7M52.5,729.38H57.7M52.5,696.33H57.7M52.5,663.29H57.7M52.5,630.24H57.7M483.9,861.56H478.7M483.9,828.51H478.7M483.9,795.47H478.7M483.9,762.42H478.7M483.9,729.38H478.7M483.9,696.33H478.7M483.9,663.29H478.7M483.9,630.24H478.7" stroke="#505050" stroke-width="1" fill="none"/>
<text class="tl" x="45.4" y="269.1">0</text>
<text class="tl" x="45.4" y="234.1">2</text>
<text class="tl" x="45.4" y="199.1">4</text>
<text class="tl" x="45.4" y="164.1">6</text>
<text class="tl" x="45.4" y="129.1">8</text>
<text class="tl" x="45.4" y="94.1">10</text>
<text class="tl" x="45.4" y="59.1">12</text>
<text class="tl" x="45.4" y="24.1">14</text>
<text class="tl" x="45.4" y="566.69">0</text>
<text class="tl" x="45.4" y="531.68">2</text>
<text class="tl" x="45.4" y="496.66">4</text>
<text class="tl" x="45.4" y="461.65">6</text>
<text class="tl" x="45.4" y="426.64">8</text>
<text class="tl" x="45.4" y="391.63">10</text>
<text class="tl" x="45.4" y="356.62">12</text>
<text class="tl" x="45.4" y="321.61">14</text>
<text class="tl" x="45.4" y="866.06">0</text>
<text class="tl" x="45.4" y="833.01">2</text>
<text class="tl" x="45.4" y="799.97">4</text>
<text class="tl" x="45.4" y="766.92">6</text>
<text class="tl" x="45.4" y="733.88">8</text>
<text class="tl" x="45.4" y="700.83">10</text>
<text class="tl" x="45.4" y="667.79">12</text>
<text class="tl" x="45.4" y="634.74">14</text>
<text class="pl" x="71.3" y="40.3">(a)</text>
<text class="pl" x="71.3" y="337.4">(b)</text>
<text class="pl" x="71.3" y="635.3">(c)</text>
<text class="xl" x="83.3" y="914.8">1.0</text>
<text class="xl" x="160.3" y="914.8">0.9</text>
<text class="xl" x="237.3" y="914.8">0.8</text>
<text class="xl" x="314.3" y="914.8">0.7</text>
<text class="xl" x="391.3" y="914.8">0.6</text>
<text class="xl" x="468.3" y="914.8">0.5</text>
<text class="al" transform="translate(14.9,151.3) rotate(-90)"><tspan class="gk">&#916;&#964;</tspan> [ps]</text>
<text class="al" transform="translate(14.9,449) rotate(-90)"><tspan class="gk">&#916;&#964;</tspan> [ps]</text>
<text class="al" transform="translate(14.9,746.5) rotate(-90)"><tspan class="gk">&#916;&#964;</tspan> [ps]</text>
<text class="al2" transform="translate(511.2,449.5) rotate(-90)">D<tspan class="sub" dx="1.5" dy="4.3">Li</tspan><tspan dy="-4.3"> [a.u.]</tspan></text>
<text class="xt" x="164" y="945.1">x in Li<tspan class="sb" dx="1.4" dy="6">x</tspan><tspan dy="-6">Ni</tspan><tspan class="sb" dx="1.4" dy="6">1/3</tspan><tspan dy="-6">Mn</tspan><tspan class="sb" dx="1.4" dy="6">1/3</tspan><tspan dy="-6">Co</tspan><tspan class="sb" dx="1.4" dy="6">1/3</tspan><tspan dy="-6">O</tspan><tspan class="sb" dx="1.4" dy="6">2</tspan></text>
</svg></body></html>
